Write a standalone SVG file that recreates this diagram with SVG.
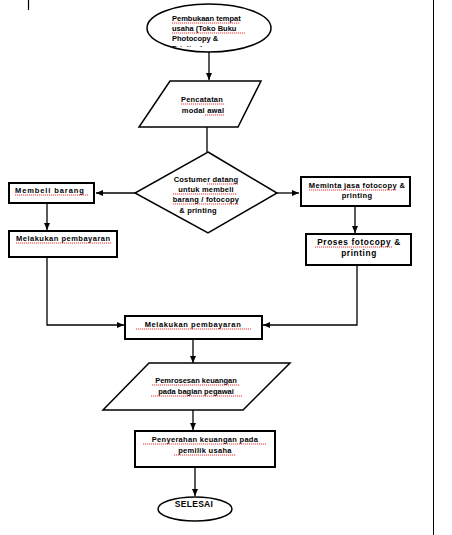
<svg xmlns="http://www.w3.org/2000/svg" width="452" height="535" viewBox="0 0 452 535">
<defs>
<marker id="ah" markerWidth="8" markerHeight="8" refX="7" refY="4" orient="auto" markerUnits="userSpaceOnUse">
<path d="M0,1 L7,4 L0,7 Z" fill="#000"/>
</marker>
<clipPath id="topclip"><rect x="140" y="0" width="140" height="47"/></clipPath>
</defs>
<style>
.sh{fill:#fff;stroke:#000;stroke-width:1.5}
.bx{fill:#fff;stroke:#000;stroke-width:2}
.t{font-family:"Liberation Sans",Arial,sans-serif;font-size:7.5px;font-weight:bold;fill:#000}
.c{text-anchor:middle}
.cn{fill:none;stroke:#000;stroke-width:1.3}
.sq{fill:none;stroke:#e00000;stroke-width:0.8;stroke-dasharray:1.2 0.8}
</style>
<rect width="452" height="535" fill="#fff"/>
<line x1="28.5" y1="0" x2="28.5" y2="10" stroke="#000" stroke-width="1.2"/>
<line x1="433.5" y1="0" x2="433.5" y2="535" stroke="#000" stroke-width="1"/>

<g id="connectors">
<line class="cn" x1="209" y1="52" x2="209" y2="80" marker-end="url(#ah)"/>
<line class="cn" x1="207" y1="127" x2="207" y2="152"/>
<line class="cn" x1="135" y1="193" x2="96" y2="193" marker-end="url(#ah)"/>
<line class="cn" x1="47" y1="203" x2="47" y2="230" marker-end="url(#ah)"/>
<polyline class="cn" points="47,257 47,325 124,325" marker-end="url(#ah)"/>
<line class="cn" x1="277" y1="193" x2="299" y2="193" marker-end="url(#ah)"/>
<line class="cn" x1="355" y1="206" x2="355" y2="233" marker-end="url(#ah)"/>
<polyline class="cn" points="357,265 357,325 263,325" marker-end="url(#ah)"/>
<line class="cn" x1="193" y1="339" x2="193" y2="363" marker-end="url(#ah)"/>
<line class="cn" x1="193" y1="410" x2="193" y2="430" marker-end="url(#ah)"/>
<line class="cn" x1="195" y1="467" x2="195" y2="496" marker-end="url(#ah)"/>
</g>

<g id="start">
<ellipse class="sh" cx="209" cy="28" rx="62" ry="24"/>
<g clip-path="url(#topclip)">
<text class="t" x="172" y="21">Pembukaan tempat</text>
<text class="t" x="172" y="31">usaha (Toko Buku</text>
<text class="t" x="172" y="41">Photocopy &amp;</text>
<text class="t" x="172" y="51">Printing)</text>
</g>
<path class="sq" d="M172,23 H240 M172,33 H245"/>
</g>

<g id="pencatatan">
<polygon class="sh" points="170,81 261,81 238,127 139,127"/>
<text class="t c" x="202" y="102" letter-spacing="0.2">Pencatatan</text>
<text class="t c" x="203" y="113" letter-spacing="0.2">modal awal</text>
<path class="sq" d="M181,104 H224 M205,115 H224"/>
</g>

<g id="keputusan">
<polygon class="sh" points="208,152 277,193 208,233 135,193"/>
<text class="t c" x="206" y="182" letter-spacing="0.2">Costumer datang</text>
<text class="t c" x="206" y="192" letter-spacing="0.2">untuk membeli</text>
<text class="t c" x="206" y="202" letter-spacing="0.2">barang / fotocopy</text>
<text class="t c" x="198" y="213" letter-spacing="0.2">&amp; printing</text>
<path class="sq" d="M207,184 H238 M173,194 H237 M173,204 H239"/>
</g>

<g id="membeli">
<rect class="bx" x="9" y="183" width="85" height="20"/>
<text class="t" x="15" y="193" letter-spacing="0.9">Membeli barang</text>
<path class="sq" d="M15,195 H88"/>
</g>

<g id="bayar1">
<rect class="bx" x="9" y="231" width="108" height="26"/>
<text class="t" x="16" y="241" letter-spacing="0.5">Melakukan pembayaran</text>
<path class="sq" d="M16,243 H112"/>
</g>

<g id="meminta">
<rect class="bx" x="301" y="177" width="109" height="29"/>
<text class="t c" x="357" y="188" letter-spacing="0.35">Meminta jasa fotocopy &amp;</text>
<text class="t c" x="357" y="198" letter-spacing="0.35">printing</text>
<path class="sq" d="M309,190 H396"/>
</g>

<g id="proses">
<rect class="bx" x="306" y="234" width="105" height="31"/>
<text class="t c" x="359" y="245" style="font-size:8.3px" letter-spacing="0.6">Proses fotocopy &amp;</text>
<text class="t c" x="359" y="256" style="font-size:8.3px" letter-spacing="0.6">printing</text>
<path class="sq" d="M315,247 H392"/>
</g>

<g id="bayar2">
<rect class="bx" x="125" y="316" width="137" height="23"/>
<text class="t c" x="193" y="327" letter-spacing="0.6">Melakukan pembayaran</text>
<path class="sq" d="M136,329 H251"/>
</g>

<g id="pemrosesan">
<polygon class="sh" points="149,363 290,363 243,410 103,410"/>
<text class="t c" x="196" y="383">Pemrosesan keuangan</text>
<text class="t c" x="196" y="394">pada bagian pegawai</text>
<path class="sq" d="M152,385 H240 M151,396 H242"/>
</g>

<g id="penyerahan">
<rect class="bx" x="135" y="431" width="140" height="36"/>
<text class="t c" x="205" y="442" letter-spacing="0.3">Penyerahan keuangan pada</text>
<text class="t c" x="205" y="453" letter-spacing="0.3">pemilik usaha</text>
<path class="sq" d="M143,444 H266 M174,455 H236"/>
</g>

<g id="selesai">
<ellipse class="sh" cx="195" cy="509" rx="37" ry="12"/>
<text class="t c" x="194" y="507" style="font-size:8.5px" letter-spacing="0.3">SELESAI</text>
</g>
</svg>
